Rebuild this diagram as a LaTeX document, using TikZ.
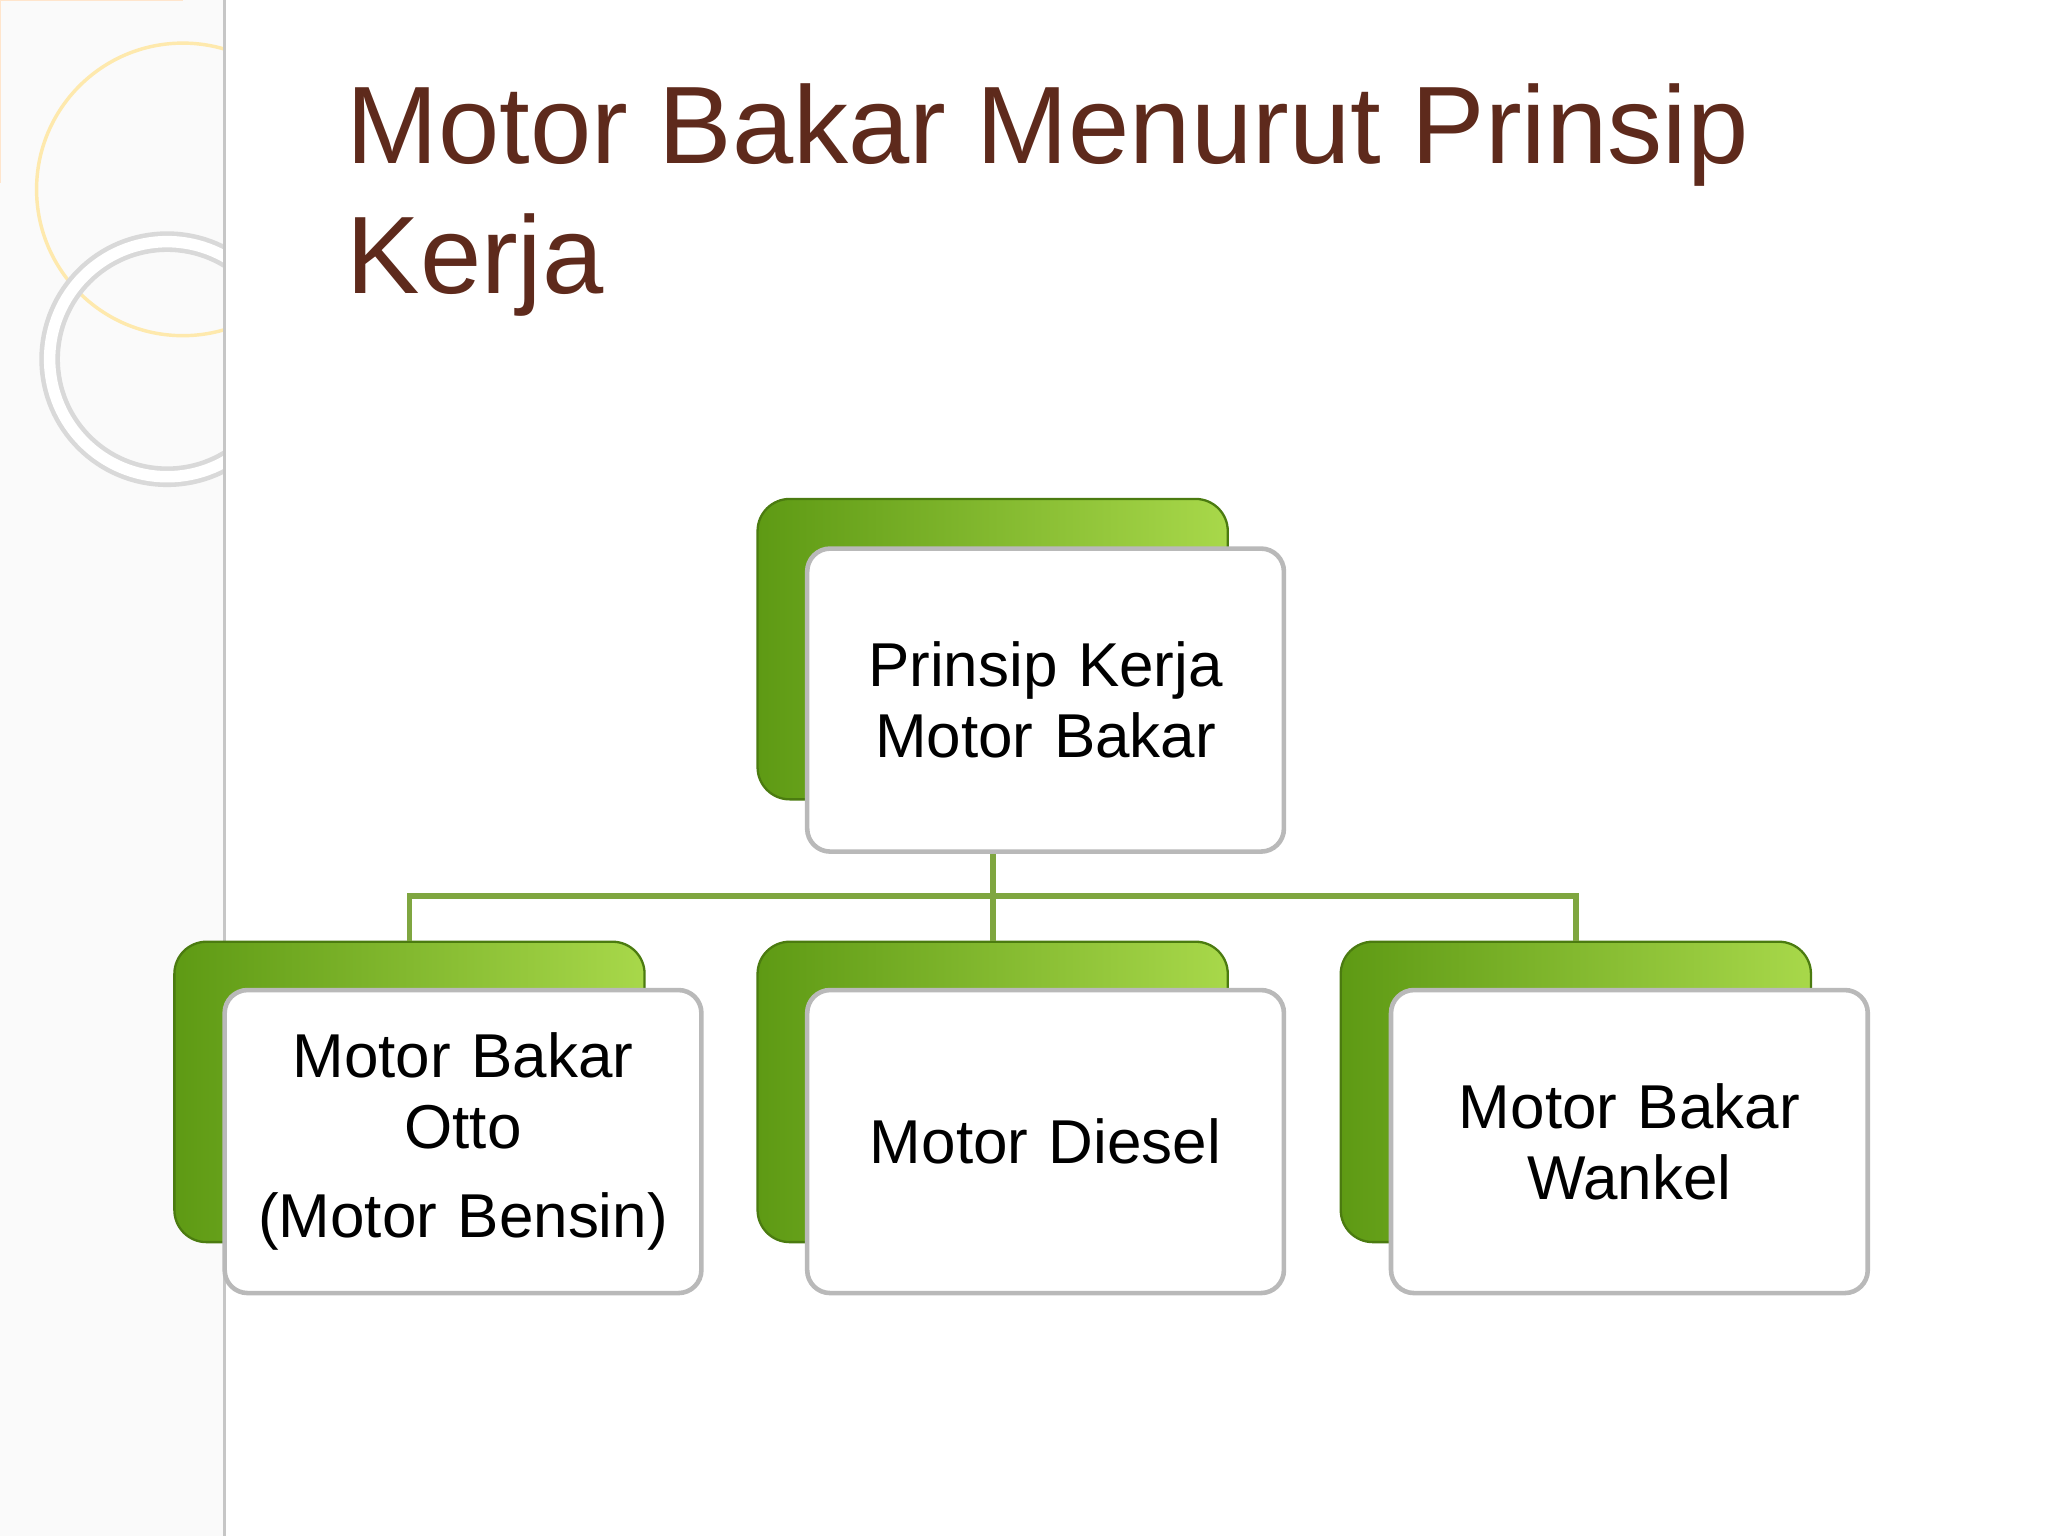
\documentclass[tikz,border=0pt]{standalone}
\usepackage{fontspec}
\setmainfont{Liberation Sans}
\definecolor{titlec}{HTML}{5E2A1C}
\definecolor{gdark}{HTML}{5E9A14}
\definecolor{glight}{HTML}{A8D84A}
\definecolor{linec}{HTML}{7FA640}
\begin{document}
\begin{tikzpicture}[x=0.02cm,y=-0.02cm,
  back/.style={draw=gdark!80!black,line width=1pt,rounded corners=14,left color=gdark,right color=glight,minimum width=360*0.02cm,minimum height=230*0.02cm,inner sep=0pt},
  front/.style={draw=gray!55,line width=2pt,rounded corners=10,fill=white,minimum width=365*0.02cm,minimum height=232*0.02cm,inner sep=0pt,align=center,font=\fontsize{27}{31}\selectfont,text width=340*0.02cm},
  conn/.style={draw=linec,line width=2.5pt}]
\useasboundingbox (0,0) rectangle (1568,1176);
\fill[gray!4] (0,0) rectangle (172,1176);
\begin{scope}
\clip (0,0) rectangle (172,1176);
\draw[yellow!50!orange!30,line width=1.5pt] (140,145) circle (112);
\draw[gray!30,line width=9pt] (128,275) circle (90);
\draw[white,line width=5pt] (128,275) circle (90);
\draw[orange!20,line width=1pt] (0,140) -- (0,0) -- (140,0);
\end{scope}
\draw[gray!45,line width=1.5pt] (172,0) -- (172,1176);
\node[anchor=base west,text=titlec,font=\fontsize{48}{58}\selectfont,inner sep=0pt] (title1) at (265,125) {Motor Bakar Menurut Prinsip};
\node[anchor=base west,text=titlec,font=\fontsize{48}{58}\selectfont,inner sep=0pt] (title2) at (265,225) {Kerja};
\node[back] (tb) at (760,497) {};
\node[back] (ab) at (313.5,836) {};
\node[back] (bb) at (760,836) {};
\node[back] (cb) at (1206.5,836) {};
\coordinate (j) at (760,686);
\draw[conn] (tb.south) -- (j);
\draw[conn] (j) -| (ab.north);
\draw[conn] (j) -| (cb.north);
\draw[conn] (j) -- (bb.north);
\node[front] (t) at (800.5,536) {Prinsip Kerja\\Motor Bakar};
\node[front] (a) at (354.5,874) {Motor Bakar\\Otto\\[8pt](Motor Bensin)};
\node[front] (b) at (800.5,874) {Motor Diesel};
\node[front] (c) at (1247.5,874) {Motor Bakar\\Wankel};
\end{tikzpicture}
\end{document}
